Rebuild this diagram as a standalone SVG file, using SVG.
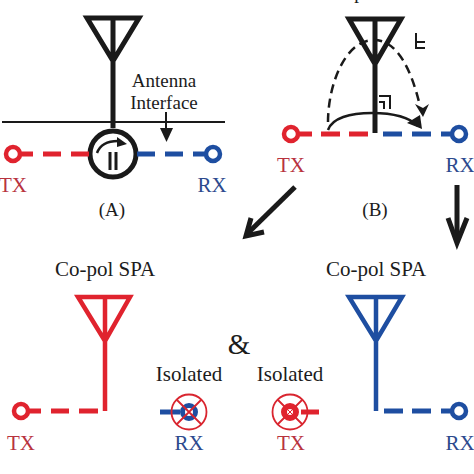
<svg xmlns="http://www.w3.org/2000/svg" width="474" height="474" viewBox="0 0 474 474">
<style>
text{font-family:"Liberation Serif","Times New Roman",serif;font-size:21px;fill:#1c1c1c;text-anchor:middle}
.tx{fill:#b8333f}.rx{fill:#2c4a8e}
.k,.r,.b{fill:none;stroke-linecap:butt}
.k{stroke:#1a1a1a}.r{stroke:#e0232e}.b{stroke:#1e4ea1}
.big{stroke-width:5}
.port{fill:#fff;stroke-width:4.500}
.x{stroke:#d9252f;stroke-width:1.800;fill:none}
.lab{font-size:19px}
</style>
<g id="panel-a-antenna">
<path class="k" style="stroke-width:5" d="M87,18H139L113,61ZM113,18V128"/>
</g>
<g id="antenna-interface">
<path class="k" style="stroke-width:1.800" d="M2,122H225"/>
<text class="lab" x="164" y="87">Antenna</text>
<text class="lab" x="164" y="109">Interface</text>
</g>
<g id="circulator">
<circle class="k" style="stroke-width:5;fill:#fff" cx="113" cy="154" r="23"/>
<path class="k" style="stroke-width:2.500" d="M97,153C100,145 108,141 118,141"/>
<path d="M117,137L127,144L117,147Z" fill="#1a1a1a"/>
<path class="k" style="stroke-width:3" d="M110,152V170M116,152V170"/>
</g>
<g id="tx-a"><circle class="r port" cx="13" cy="154" r="7"/><text class="tx" x="13" y="192">TX</text></g>
<g id="rx-a"><circle class="b port" cx="213" cy="154" r="7"/><text class="rx" x="212" y="192">RX</text></g>
<text class="lab" x="112" y="216">(A)</text>
<g id="panel-b-antenna">
<path class="k" style="stroke-width:5" d="M349,19H401L375,64ZM375,19V133"/>
</g>
<g id="tx-b"><circle class="r port" cx="291" cy="134" r="7"/><text class="tx" x="291" y="172">TX</text></g>
<g id="rx-b"><circle class="b port" cx="459" cy="134" r="7"/><text class="rx" x="460" y="172">RX</text></g>
<text class="lab" x="375" y="216">(B)</text>
<text class="lab" x="359" y="-1">p</text>
<g id="symbols">
<path class="k" style="stroke-width:2" d="M416,33V48H425M416,42H425"/>
<path class="k" style="stroke-width:2" d="M379,96H390V109M379,102H384V109"/>
</g>
<g id="tx-c"><circle class="r port" cx="21" cy="411" r="7"/><text class="tx" x="21" y="450">TX</text></g>
<g id="spa-tx">
<text x="105" y="276">Co-pol SPA</text>
<path class="r" style="stroke-width:4.500" d="M78,297H130L105,341ZM105,297V411"/>
</g>
<g id="isolated-rx">
<text x="189" y="381">Isolated</text>
<path class="b" style="stroke-width:5" d="M160,412H180"/>
<circle class="b" style="stroke-width:5;fill:#fff" cx="189" cy="412" r="6.500"/>
<circle class="x" cx="189" cy="412" r="17.500"/>
<path class="x" d="M176.500,399.500L201.500,424.500M201.500,399.500L176.500,424.500"/>
<text class="rx" x="189" y="450">RX</text>
</g>
<g id="amp"><text x="239" y="354" style="font-size:29px">&amp;</text></g>
<g id="isolated-tx">
<text x="290" y="381">Isolated</text>
<path class="r" style="stroke-width:5" d="M301,412H319"/>
<circle class="r" style="stroke-width:6;fill:#fff" cx="290" cy="412" r="6"/>
<circle class="x" cx="290" cy="412" r="17.500"/>
<path class="x" d="M277.500,399.500L285,407M295,417L302.500,424.500M302.500,399.500L295,407M285,417L277.500,424.500"/>
<path style="stroke:#e0232e;stroke-width:1;fill:none" d="M287,409L293,415M293,409L287,415"/>
<text class="tx" x="291" y="450">TX</text>
</g>
<g id="spa-rx">
<text x="376" y="276">Co-pol SPA</text>
<path class="b" style="stroke-width:4.500" d="M349,297H402L376,341ZM376,297V411"/>
</g>
<g id="rx-c"><circle class="b port" cx="459" cy="411" r="7"/><text class="rx" x="460" y="450">RX</text></g>
<g id="connectors">
<path class="r big" d="M20,154H33M43,154H61M71,154H89"/>
<path class="b big" d="M137,154H155M165,154H183M193,154H206"/>
<path class="k" style="stroke-width:2" d="M166,112V133"/>
<path d="M160,128H173L166.500,142Z" fill="#1a1a1a"/>
<path class="r big" d="M298,134H312M321,134H340M349,134H368"/>
<path class="b big" d="M383,134H402M412,134H431M441,134H452"/>
<path class="k" style="stroke-width:2.500" d="M328,130C332,118 350,113 372,113C395,113 410,118 418,126"/>
<path d="M407,123L420,115L422,129Z" fill="#1a1a1a"/>
<path class="k" style="stroke-width:2.500;stroke-dasharray:9 5.500" d="M328,122C328,85 345,40 374,40C398,40 412,72 420,106"/>
<path d="M415,104L423,108L429,104L423,117Z" fill="#1a1a1a"/>
<path class="k" style="stroke-width:5" d="M295,187L248,233"/>
<path class="k" style="stroke-width:5;stroke-linejoin:miter" d="M251,218L246,236L264,232"/>
<path class="k" style="stroke-width:5" d="M457,185V240"/>
<path class="k" style="stroke-width:5;stroke-linejoin:miter" d="M448,218L457,243L467,218"/>
<path class="r big" d="M28,411H41M51,411H69M79,411H98"/>
<path class="b big" d="M384,411H403M412,411H431M441,411H452"/>
</g>
</svg>
